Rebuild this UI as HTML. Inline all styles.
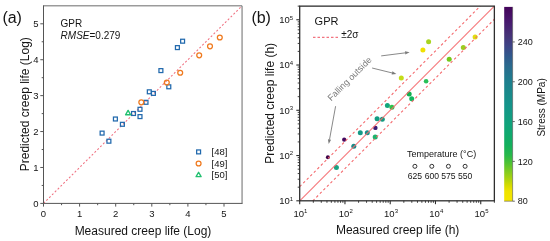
<!DOCTYPE html>
<html><head><meta charset="utf-8"><style>
html,body{margin:0;padding:0;background:#fff;width:550px;height:241px;overflow:hidden;}
body{position:relative;font-family:"Liberation Sans",sans-serif;}
</style></head><body>
<svg width="550" height="241" viewBox="0 0 550 241" style="position:absolute;left:0;top:0;will-change:transform;font-family:'Liberation Sans',sans-serif">
<rect width="550" height="241" fill="#fff"/>
<line x1="43.5" y1="203.4" x2="242.05" y2="5.840000000000003" stroke="#f07080" stroke-width="1.05" stroke-dasharray="2,2"/>
<path d="M43.5,5.840000000000003 H242.05 V203.4" fill="none" stroke="#6a6a6a" stroke-width="1"/>
<path d="M43.5,5.340000000000003 V203.4 H242.55" fill="none" stroke="#555" stroke-width="1"/>
<line x1="43.5" y1="203.4" x2="43.5" y2="206.6" stroke="#555" stroke-width="1"/>
<line x1="40.3" y1="203.4" x2="43.5" y2="203.4" stroke="#555" stroke-width="1"/>
<line x1="79.6" y1="203.4" x2="79.6" y2="206.6" stroke="#555" stroke-width="1"/>
<line x1="40.3" y1="167.48000000000002" x2="43.5" y2="167.48000000000002" stroke="#555" stroke-width="1"/>
<line x1="115.7" y1="203.4" x2="115.7" y2="206.6" stroke="#555" stroke-width="1"/>
<line x1="40.3" y1="131.56" x2="43.5" y2="131.56" stroke="#555" stroke-width="1"/>
<line x1="151.8" y1="203.4" x2="151.8" y2="206.6" stroke="#555" stroke-width="1"/>
<line x1="40.3" y1="95.64" x2="43.5" y2="95.64" stroke="#555" stroke-width="1"/>
<line x1="187.9" y1="203.4" x2="187.9" y2="206.6" stroke="#555" stroke-width="1"/>
<line x1="40.3" y1="59.72" x2="43.5" y2="59.72" stroke="#555" stroke-width="1"/>
<line x1="224.0" y1="203.4" x2="224.0" y2="206.6" stroke="#555" stroke-width="1"/>
<line x1="40.3" y1="23.799999999999983" x2="43.5" y2="23.799999999999983" stroke="#555" stroke-width="1"/>
<line x1="61.55" y1="203.4" x2="61.55" y2="205.20000000000002" stroke="#555" stroke-width="1"/>
<line x1="41.7" y1="185.44" x2="43.5" y2="185.44" stroke="#555" stroke-width="1"/>
<line x1="97.65" y1="203.4" x2="97.65" y2="205.20000000000002" stroke="#555" stroke-width="1"/>
<line x1="41.7" y1="149.52" x2="43.5" y2="149.52" stroke="#555" stroke-width="1"/>
<line x1="133.75" y1="203.4" x2="133.75" y2="205.20000000000002" stroke="#555" stroke-width="1"/>
<line x1="41.7" y1="113.6" x2="43.5" y2="113.6" stroke="#555" stroke-width="1"/>
<line x1="169.85000000000002" y1="203.4" x2="169.85000000000002" y2="205.20000000000002" stroke="#555" stroke-width="1"/>
<line x1="41.7" y1="77.68" x2="43.5" y2="77.68" stroke="#555" stroke-width="1"/>
<line x1="205.95000000000002" y1="203.4" x2="205.95000000000002" y2="205.20000000000002" stroke="#555" stroke-width="1"/>
<line x1="41.7" y1="41.75999999999999" x2="43.5" y2="41.75999999999999" stroke="#555" stroke-width="1"/>
<text x="43.5" y="217.3" font-size="9.5" text-anchor="middle" fill="#141414">0</text>
<text x="38.6" y="206.8" font-size="9.5" text-anchor="end" fill="#141414">0</text>
<text x="79.6" y="217.3" font-size="9.5" text-anchor="middle" fill="#141414">1</text>
<text x="38.6" y="170.88000000000002" font-size="9.5" text-anchor="end" fill="#141414">1</text>
<text x="115.7" y="217.3" font-size="9.5" text-anchor="middle" fill="#141414">2</text>
<text x="38.6" y="134.96" font-size="9.5" text-anchor="end" fill="#141414">2</text>
<text x="151.8" y="217.3" font-size="9.5" text-anchor="middle" fill="#141414">3</text>
<text x="38.6" y="99.04" font-size="9.5" text-anchor="end" fill="#141414">3</text>
<text x="187.9" y="217.3" font-size="9.5" text-anchor="middle" fill="#141414">4</text>
<text x="38.6" y="63.12" font-size="9.5" text-anchor="end" fill="#141414">4</text>
<text x="224.0" y="217.3" font-size="9.5" text-anchor="middle" fill="#141414">5</text>
<text x="38.6" y="27.19999999999998" font-size="9.5" text-anchor="end" fill="#141414">5</text>
<text x="143.0" y="235" font-size="12" text-anchor="middle" fill="#141414">Measured creep life (Log)</text>
<text transform="translate(29.2,104.19999999999999) rotate(-90)" font-size="12" text-anchor="middle" fill="#141414">Predicted creep life (Log)</text>
<text x="2.4" y="22.6" font-size="16" fill="#141414">(a)</text>
<text x="60.6" y="26.8" font-size="10" fill="#141414">GPR</text>
<text x="60.6" y="38.8" font-size="10" fill="#141414"><tspan font-style="italic">RMSE</tspan>=0.279</text>
<rect x="100.15" y="131.15" width="3.9" height="3.9" fill="none" stroke="#2169ad" stroke-width="1.25"/>
<rect x="106.95" y="139.25" width="3.9" height="3.9" fill="none" stroke="#2169ad" stroke-width="1.25"/>
<rect x="113.45" y="117.05" width="3.9" height="3.9" fill="none" stroke="#2169ad" stroke-width="1.25"/>
<rect x="120.45" y="122.35" width="3.9" height="3.9" fill="none" stroke="#2169ad" stroke-width="1.25"/>
<rect x="131.55" y="111.55" width="3.9" height="3.9" fill="none" stroke="#2169ad" stroke-width="1.25"/>
<rect x="138.05" y="107.35" width="3.9" height="3.9" fill="none" stroke="#2169ad" stroke-width="1.25"/>
<rect x="138.05" y="114.65" width="3.9" height="3.9" fill="none" stroke="#2169ad" stroke-width="1.25"/>
<rect x="144.05" y="100.35" width="3.9" height="3.9" fill="none" stroke="#2169ad" stroke-width="1.25"/>
<rect x="147.35" y="89.85" width="3.9" height="3.9" fill="none" stroke="#2169ad" stroke-width="1.25"/>
<rect x="151.45" y="91.45" width="3.9" height="3.9" fill="none" stroke="#2169ad" stroke-width="1.25"/>
<rect x="166.85" y="84.85" width="3.9" height="3.9" fill="none" stroke="#2169ad" stroke-width="1.25"/>
<rect x="158.95" y="68.65" width="3.9" height="3.9" fill="none" stroke="#2169ad" stroke-width="1.25"/>
<rect x="175.45" y="45.65" width="3.9" height="3.9" fill="none" stroke="#2169ad" stroke-width="1.25"/>
<rect x="180.65" y="39.25" width="3.9" height="3.9" fill="none" stroke="#2169ad" stroke-width="1.25"/>
<circle cx="141.30" cy="102.30" r="2.45" fill="none" stroke="#ef7a1f" stroke-width="1.25"/>
<circle cx="166.80" cy="82.50" r="2.45" fill="none" stroke="#ef7a1f" stroke-width="1.25"/>
<circle cx="180.20" cy="72.70" r="2.45" fill="none" stroke="#ef7a1f" stroke-width="1.25"/>
<circle cx="199.20" cy="55.30" r="2.45" fill="none" stroke="#ef7a1f" stroke-width="1.25"/>
<circle cx="210.00" cy="46.30" r="2.45" fill="none" stroke="#ef7a1f" stroke-width="1.25"/>
<circle cx="219.80" cy="37.50" r="2.45" fill="none" stroke="#ef7a1f" stroke-width="1.25"/>
<path d="M128.10,110.36 L130.60,114.76 L125.60,114.76 Z" fill="none" stroke="#22c070" stroke-width="1.4" stroke-linejoin="round"/>
<rect x="196.65" y="149.95" width="3.9" height="3.9" fill="none" stroke="#2169ad" stroke-width="1.25"/>
<circle cx="198.60" cy="163.50" r="2.45" fill="none" stroke="#ef7a1f" stroke-width="1.25"/>
<path d="M198.60,172.26 L201.10,176.66 L196.10,176.66 Z" fill="none" stroke="#22c070" stroke-width="1.4" stroke-linejoin="round"/>
<text x="211.6" y="155.2" font-size="9.5" fill="#141414">[48]</text>
<text x="211.6" y="166.7" font-size="9.5" fill="#141414">[49]</text>
<text x="211.6" y="178.2" font-size="9.5" fill="#141414">[50]</text>
<circle cx="327.9" cy="157.3" r="2.0" fill="#3c0046"/>
<circle cx="336.4" cy="167.5" r="2.5" fill="#1aa383"/>
<circle cx="344.2" cy="139.7" r="2.1" fill="#44085e"/>
<circle cx="353.8" cy="146.3" r="2.5" fill="#1a8a88"/>
<circle cx="360.3" cy="132.7" r="2.5" fill="#169a86"/>
<circle cx="367.3" cy="132.7" r="2.5" fill="#1b908a"/>
<circle cx="375.4" cy="127.9" r="2.2" fill="#3b1a73"/>
<circle cx="375.2" cy="136.9" r="2.5" fill="#1db36b"/>
<circle cx="377.1" cy="118.8" r="2.5" fill="#129c82"/>
<circle cx="382.3" cy="119.2" r="2.5" fill="#159a80"/>
<circle cx="387.4" cy="105.6" r="2.5" fill="#13a77b"/>
<circle cx="391.9" cy="107.3" r="2.5" fill="#2fc24b"/>
<circle cx="409.2" cy="94.1" r="2.5" fill="#10b050"/>
<circle cx="411.7" cy="98.7" r="2.5" fill="#12b860"/>
<circle cx="401.3" cy="77.9" r="2.5" fill="#c4dc18"/>
<circle cx="426.1" cy="81.3" r="2.3" fill="#28c058"/>
<circle cx="422.9" cy="49.9" r="2.5" fill="#f0e000"/>
<circle cx="428.6" cy="41.8" r="2.5" fill="#a8d420"/>
<circle cx="449.2" cy="59.2" r="2.5" fill="#74c81a"/>
<circle cx="463.3" cy="47.5" r="2.5" fill="#9ccc20"/>
<circle cx="475.1" cy="37.0" r="2.5" fill="#e0dc10"/>
<line x1="299.7" y1="200.8" x2="494.36461760375175" y2="6.135382396248218" stroke="#f46a6e" stroke-width="1.15" stroke-opacity="0.9"/>
<line x1="299.7" y1="186.70000000000002" x2="480.26461760375173" y2="6.135382396248218" stroke="#f46a6e" stroke-width="1.1" stroke-dasharray="2.5,2.5"/>
<line x1="312.8" y1="200.8" x2="494.36461760375175" y2="19.23538239624822" stroke="#f46a6e" stroke-width="1.1" stroke-dasharray="2.5,2.5"/>
<rect x="299.7" y="6.135382396248218" width="194.66461760375176" height="194.6646176037518" fill="none" stroke="#2e2e2e" stroke-width="1.3"/>
<line x1="299.7" y1="200.8" x2="299.7" y2="204.20000000000002" stroke="#2e2e2e" stroke-width="1.1"/>
<line x1="296.3" y1="200.8" x2="299.7" y2="200.8" stroke="#2e2e2e" stroke-width="1.1"/>
<line x1="344.96" y1="200.8" x2="344.96" y2="204.20000000000002" stroke="#2e2e2e" stroke-width="1.1"/>
<line x1="296.3" y1="155.54000000000002" x2="299.7" y2="155.54000000000002" stroke="#2e2e2e" stroke-width="1.1"/>
<line x1="390.21999999999997" y1="200.8" x2="390.21999999999997" y2="204.20000000000002" stroke="#2e2e2e" stroke-width="1.1"/>
<line x1="296.3" y1="110.28000000000002" x2="299.7" y2="110.28000000000002" stroke="#2e2e2e" stroke-width="1.1"/>
<line x1="435.48" y1="200.8" x2="435.48" y2="204.20000000000002" stroke="#2e2e2e" stroke-width="1.1"/>
<line x1="296.3" y1="65.02000000000001" x2="299.7" y2="65.02000000000001" stroke="#2e2e2e" stroke-width="1.1"/>
<line x1="480.74" y1="200.8" x2="480.74" y2="204.20000000000002" stroke="#2e2e2e" stroke-width="1.1"/>
<line x1="296.3" y1="19.76000000000002" x2="299.7" y2="19.76000000000002" stroke="#2e2e2e" stroke-width="1.1"/>
<line x1="313.32" y1="200.8" x2="313.32" y2="202.8" stroke="#2e2e2e" stroke-width="0.9"/>
<line x1="297.7" y1="187.18" x2="299.7" y2="187.18" stroke="#2e2e2e" stroke-width="0.9"/>
<line x1="321.29" y1="200.8" x2="321.29" y2="202.8" stroke="#2e2e2e" stroke-width="0.9"/>
<line x1="297.7" y1="179.21" x2="299.7" y2="179.21" stroke="#2e2e2e" stroke-width="0.9"/>
<line x1="326.95" y1="200.8" x2="326.95" y2="202.8" stroke="#2e2e2e" stroke-width="0.9"/>
<line x1="297.7" y1="173.55" x2="299.7" y2="173.55" stroke="#2e2e2e" stroke-width="0.9"/>
<line x1="331.34" y1="200.8" x2="331.34" y2="202.8" stroke="#2e2e2e" stroke-width="0.9"/>
<line x1="297.7" y1="169.16" x2="299.7" y2="169.16" stroke="#2e2e2e" stroke-width="0.9"/>
<line x1="334.92" y1="200.8" x2="334.92" y2="202.8" stroke="#2e2e2e" stroke-width="0.9"/>
<line x1="297.7" y1="165.58" x2="299.7" y2="165.58" stroke="#2e2e2e" stroke-width="0.9"/>
<line x1="337.95" y1="200.8" x2="337.95" y2="202.8" stroke="#2e2e2e" stroke-width="0.9"/>
<line x1="297.7" y1="162.55" x2="299.7" y2="162.55" stroke="#2e2e2e" stroke-width="0.9"/>
<line x1="340.57" y1="200.8" x2="340.57" y2="202.8" stroke="#2e2e2e" stroke-width="0.9"/>
<line x1="297.7" y1="159.93" x2="299.7" y2="159.93" stroke="#2e2e2e" stroke-width="0.9"/>
<line x1="342.89" y1="200.8" x2="342.89" y2="202.8" stroke="#2e2e2e" stroke-width="0.9"/>
<line x1="297.7" y1="157.61" x2="299.7" y2="157.61" stroke="#2e2e2e" stroke-width="0.9"/>
<line x1="358.58" y1="200.8" x2="358.58" y2="202.8" stroke="#2e2e2e" stroke-width="0.9"/>
<line x1="297.7" y1="141.92" x2="299.7" y2="141.92" stroke="#2e2e2e" stroke-width="0.9"/>
<line x1="366.55" y1="200.8" x2="366.55" y2="202.8" stroke="#2e2e2e" stroke-width="0.9"/>
<line x1="297.7" y1="133.95" x2="299.7" y2="133.95" stroke="#2e2e2e" stroke-width="0.9"/>
<line x1="372.21" y1="200.8" x2="372.21" y2="202.8" stroke="#2e2e2e" stroke-width="0.9"/>
<line x1="297.7" y1="128.29" x2="299.7" y2="128.29" stroke="#2e2e2e" stroke-width="0.9"/>
<line x1="376.60" y1="200.8" x2="376.60" y2="202.8" stroke="#2e2e2e" stroke-width="0.9"/>
<line x1="297.7" y1="123.90" x2="299.7" y2="123.90" stroke="#2e2e2e" stroke-width="0.9"/>
<line x1="380.18" y1="200.8" x2="380.18" y2="202.8" stroke="#2e2e2e" stroke-width="0.9"/>
<line x1="297.7" y1="120.32" x2="299.7" y2="120.32" stroke="#2e2e2e" stroke-width="0.9"/>
<line x1="383.21" y1="200.8" x2="383.21" y2="202.8" stroke="#2e2e2e" stroke-width="0.9"/>
<line x1="297.7" y1="117.29" x2="299.7" y2="117.29" stroke="#2e2e2e" stroke-width="0.9"/>
<line x1="385.83" y1="200.8" x2="385.83" y2="202.8" stroke="#2e2e2e" stroke-width="0.9"/>
<line x1="297.7" y1="114.67" x2="299.7" y2="114.67" stroke="#2e2e2e" stroke-width="0.9"/>
<line x1="388.15" y1="200.8" x2="388.15" y2="202.8" stroke="#2e2e2e" stroke-width="0.9"/>
<line x1="297.7" y1="112.35" x2="299.7" y2="112.35" stroke="#2e2e2e" stroke-width="0.9"/>
<line x1="403.84" y1="200.8" x2="403.84" y2="202.8" stroke="#2e2e2e" stroke-width="0.9"/>
<line x1="297.7" y1="96.66" x2="299.7" y2="96.66" stroke="#2e2e2e" stroke-width="0.9"/>
<line x1="411.81" y1="200.8" x2="411.81" y2="202.8" stroke="#2e2e2e" stroke-width="0.9"/>
<line x1="297.7" y1="88.69" x2="299.7" y2="88.69" stroke="#2e2e2e" stroke-width="0.9"/>
<line x1="417.47" y1="200.8" x2="417.47" y2="202.8" stroke="#2e2e2e" stroke-width="0.9"/>
<line x1="297.7" y1="83.03" x2="299.7" y2="83.03" stroke="#2e2e2e" stroke-width="0.9"/>
<line x1="421.86" y1="200.8" x2="421.86" y2="202.8" stroke="#2e2e2e" stroke-width="0.9"/>
<line x1="297.7" y1="78.64" x2="299.7" y2="78.64" stroke="#2e2e2e" stroke-width="0.9"/>
<line x1="425.44" y1="200.8" x2="425.44" y2="202.8" stroke="#2e2e2e" stroke-width="0.9"/>
<line x1="297.7" y1="75.06" x2="299.7" y2="75.06" stroke="#2e2e2e" stroke-width="0.9"/>
<line x1="428.47" y1="200.8" x2="428.47" y2="202.8" stroke="#2e2e2e" stroke-width="0.9"/>
<line x1="297.7" y1="72.03" x2="299.7" y2="72.03" stroke="#2e2e2e" stroke-width="0.9"/>
<line x1="431.09" y1="200.8" x2="431.09" y2="202.8" stroke="#2e2e2e" stroke-width="0.9"/>
<line x1="297.7" y1="69.41" x2="299.7" y2="69.41" stroke="#2e2e2e" stroke-width="0.9"/>
<line x1="433.41" y1="200.8" x2="433.41" y2="202.8" stroke="#2e2e2e" stroke-width="0.9"/>
<line x1="297.7" y1="67.09" x2="299.7" y2="67.09" stroke="#2e2e2e" stroke-width="0.9"/>
<line x1="449.10" y1="200.8" x2="449.10" y2="202.8" stroke="#2e2e2e" stroke-width="0.9"/>
<line x1="297.7" y1="51.40" x2="299.7" y2="51.40" stroke="#2e2e2e" stroke-width="0.9"/>
<line x1="457.07" y1="200.8" x2="457.07" y2="202.8" stroke="#2e2e2e" stroke-width="0.9"/>
<line x1="297.7" y1="43.43" x2="299.7" y2="43.43" stroke="#2e2e2e" stroke-width="0.9"/>
<line x1="462.73" y1="200.8" x2="462.73" y2="202.8" stroke="#2e2e2e" stroke-width="0.9"/>
<line x1="297.7" y1="37.77" x2="299.7" y2="37.77" stroke="#2e2e2e" stroke-width="0.9"/>
<line x1="467.12" y1="200.8" x2="467.12" y2="202.8" stroke="#2e2e2e" stroke-width="0.9"/>
<line x1="297.7" y1="33.38" x2="299.7" y2="33.38" stroke="#2e2e2e" stroke-width="0.9"/>
<line x1="470.70" y1="200.8" x2="470.70" y2="202.8" stroke="#2e2e2e" stroke-width="0.9"/>
<line x1="297.7" y1="29.80" x2="299.7" y2="29.80" stroke="#2e2e2e" stroke-width="0.9"/>
<line x1="473.73" y1="200.8" x2="473.73" y2="202.8" stroke="#2e2e2e" stroke-width="0.9"/>
<line x1="297.7" y1="26.77" x2="299.7" y2="26.77" stroke="#2e2e2e" stroke-width="0.9"/>
<line x1="476.35" y1="200.8" x2="476.35" y2="202.8" stroke="#2e2e2e" stroke-width="0.9"/>
<line x1="297.7" y1="24.15" x2="299.7" y2="24.15" stroke="#2e2e2e" stroke-width="0.9"/>
<line x1="478.67" y1="200.8" x2="478.67" y2="202.8" stroke="#2e2e2e" stroke-width="0.9"/>
<line x1="297.7" y1="21.83" x2="299.7" y2="21.83" stroke="#2e2e2e" stroke-width="0.9"/>
<line x1="494.36" y1="200.8" x2="494.36" y2="202.8" stroke="#2e2e2e" stroke-width="0.9"/>
<line x1="297.7" y1="6.14" x2="299.7" y2="6.14" stroke="#2e2e2e" stroke-width="0.9"/>
<text x="300.50" y="216.6" font-size="9.5" text-anchor="middle" fill="#141414">10<tspan font-size="6" dy="-3.5">1</tspan></text>
<text x="293.2" y="204.10" font-size="9.5" text-anchor="end" fill="#141414">10<tspan font-size="6" dy="-3.5">1</tspan></text>
<text x="345.76" y="216.6" font-size="9.5" text-anchor="middle" fill="#141414">10<tspan font-size="6" dy="-3.5">2</tspan></text>
<text x="293.2" y="158.84" font-size="9.5" text-anchor="end" fill="#141414">10<tspan font-size="6" dy="-3.5">2</tspan></text>
<text x="391.02" y="216.6" font-size="9.5" text-anchor="middle" fill="#141414">10<tspan font-size="6" dy="-3.5">3</tspan></text>
<text x="293.2" y="113.58" font-size="9.5" text-anchor="end" fill="#141414">10<tspan font-size="6" dy="-3.5">3</tspan></text>
<text x="436.28" y="216.6" font-size="9.5" text-anchor="middle" fill="#141414">10<tspan font-size="6" dy="-3.5">4</tspan></text>
<text x="293.2" y="68.32" font-size="9.5" text-anchor="end" fill="#141414">10<tspan font-size="6" dy="-3.5">4</tspan></text>
<text x="481.54" y="216.6" font-size="9.5" text-anchor="middle" fill="#141414">10<tspan font-size="6" dy="-3.5">5</tspan></text>
<text x="293.2" y="23.06" font-size="9.5" text-anchor="end" fill="#141414">10<tspan font-size="6" dy="-3.5">5</tspan></text>
<text x="397.65" y="234.2" font-size="12" text-anchor="middle" fill="#141414">Measured creep life (h)</text>
<text transform="translate(274.0,103.30000000000001) rotate(-90)" font-size="12" text-anchor="middle" fill="#141414">Predicted creep life (h)</text>
<text x="251.4" y="22.6" font-size="16" fill="#141414">(b)</text>
<text x="314.6" y="24.7" font-size="11" fill="#141414">GPR</text>
<line x1="313" y1="37.4" x2="339" y2="37.4" stroke="#f27480" stroke-width="1.2" stroke-dasharray="2.5,2"/>
<text x="341.3" y="37.5" font-size="10" fill="#141414">±2σ</text>
<text transform="translate(331.2,101.5) rotate(-45)" font-size="9" fill="#7a7a7a">Falling outside</text>
<line x1="381.2" y1="55.9" x2="405.14" y2="52.87" stroke="#7a7a7a" stroke-width="0.9"/><path d="M409.6,52.3 L405.34,54.45 L404.93,51.28 Z" fill="#7a7a7a"/>
<line x1="372.1" y1="68.0" x2="392.03" y2="72.92" stroke="#7a7a7a" stroke-width="0.9"/><path d="M396.4,74.0 L391.65,74.47 L392.41,71.37 Z" fill="#7a7a7a"/>
<line x1="335.6" y1="106.2" x2="329.51" y2="139.57" stroke="#7a7a7a" stroke-width="0.9"/><path d="M328.7,144.0 L327.93,139.29 L331.08,139.86 Z" fill="#7a7a7a"/>
<text x="407.1" y="157.2" font-size="9" fill="#141414">Temperature (°C)</text>
<circle cx="414.9" cy="166.3" r="2.0" fill="none" stroke="#333" stroke-width="1.0"/>
<text x="414.9" y="179" font-size="8.6" text-anchor="middle" fill="#141414">625</text>
<circle cx="431.8" cy="166.3" r="2.0" fill="none" stroke="#333" stroke-width="1.0"/>
<text x="431.8" y="179" font-size="8.6" text-anchor="middle" fill="#141414">600</text>
<circle cx="448.4" cy="166.3" r="2.0" fill="none" stroke="#333" stroke-width="1.0"/>
<text x="448.4" y="179" font-size="8.6" text-anchor="middle" fill="#141414">575</text>
<circle cx="465.1" cy="166.3" r="2.0" fill="none" stroke="#333" stroke-width="1.0"/>
<text x="465.1" y="179" font-size="8.6" text-anchor="middle" fill="#141414">550</text>
<defs><linearGradient id="cb" x1="0" y1="1" x2="0" y2="0">
<stop offset="0.0000" stop-color="#f5e600"/>
<stop offset="0.0512" stop-color="#efe300"/>
<stop offset="0.0820" stop-color="#d4db00"/>
<stop offset="0.1178" stop-color="#a8d210"/>
<stop offset="0.1537" stop-color="#80cb20"/>
<stop offset="0.1947" stop-color="#50c232"/>
<stop offset="0.2357" stop-color="#28b94a"/>
<stop offset="0.2869" stop-color="#14b05c"/>
<stop offset="0.3381" stop-color="#10aa6c"/>
<stop offset="0.3893" stop-color="#10a47a"/>
<stop offset="0.4406" stop-color="#129c82"/>
<stop offset="0.4918" stop-color="#14948a"/>
<stop offset="0.5430" stop-color="#188c8a"/>
<stop offset="0.6199" stop-color="#1e7e8e"/>
<stop offset="0.6967" stop-color="#2a6a8e"/>
<stop offset="0.7480" stop-color="#30588c"/>
<stop offset="0.7992" stop-color="#3e4486"/>
<stop offset="0.8504" stop-color="#463478"/>
<stop offset="0.9273" stop-color="#48186e"/>
<stop offset="1.0000" stop-color="#44045a"/>
</linearGradient></defs>
<rect x="504.2" y="6.9" width="8.400000000000034" height="194.29999999999998" fill="url(#cb)"/>
<line x1="512.6" y1="6.9" x2="512.6" y2="201.2" stroke="#555" stroke-width="0.6"/>
<line x1="504.2" y1="201.2" x2="512.6" y2="201.2" stroke="#555" stroke-width="0.6"/>
<line x1="512.6" y1="201.20" x2="514.8000000000001" y2="201.20" stroke="#444" stroke-width="0.8"/>
<text x="517.8" y="204.40" font-size="9" fill="#141414">80</text>
<line x1="512.6" y1="161.38" x2="514.8000000000001" y2="161.38" stroke="#444" stroke-width="0.8"/>
<text x="517.8" y="164.58" font-size="9" fill="#141414">120</text>
<line x1="512.6" y1="121.57" x2="514.8000000000001" y2="121.57" stroke="#444" stroke-width="0.8"/>
<text x="517.8" y="124.77" font-size="9" fill="#141414">160</text>
<line x1="512.6" y1="81.75" x2="514.8000000000001" y2="81.75" stroke="#444" stroke-width="0.8"/>
<text x="517.8" y="84.95" font-size="9" fill="#141414">200</text>
<line x1="512.6" y1="41.94" x2="514.8000000000001" y2="41.94" stroke="#444" stroke-width="0.8"/>
<text x="517.8" y="45.14" font-size="9" fill="#141414">240</text>
<text transform="translate(545,107.44999999999999) rotate(-90)" font-size="10" text-anchor="middle" fill="#141414">Stress (MPa)</text>
</svg>
</body></html>
